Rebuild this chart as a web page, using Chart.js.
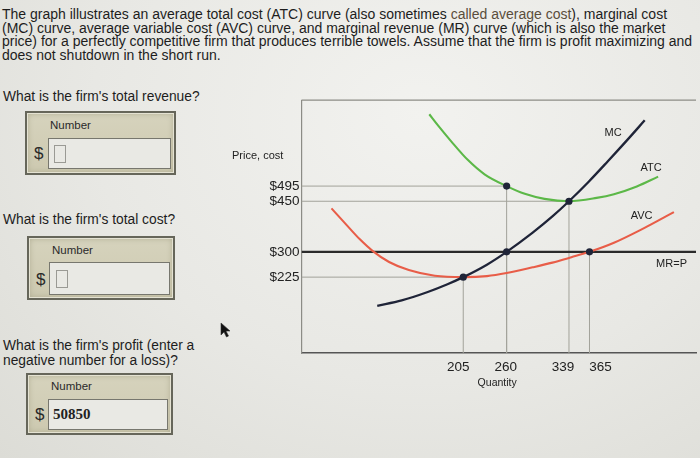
<!DOCTYPE html>
<html>
<head>
<meta charset="utf-8">
<script src="https://cdn.jsdelivr.net/npm/chart.js@4.4.1/dist/chart.umd.min.js"></script>
<style>
  html, body { margin: 0; padding: 0; }
  body {
    width: 700px; height: 458px; overflow: hidden; position: relative;
    font-family: "Liberation Sans", Arial, sans-serif; color: #1d1d1d;
    background: radial-gradient(ellipse at 60% 25%, #f2f2ef 0%, #e8e8e4 55%, #dcdcd6 100%);
  }
  .intro { position: absolute; left: 2px; top: 8px; font-size: 14px; line-height: 13.7px; white-space: nowrap; }
  .intro .tint { color: #5a4d3c; }
  .q { position: absolute; left: 3px; font-size: 13.8px; line-height: 15px; white-space: nowrap; }
  .box {
    position: absolute; box-sizing: border-box;
    border: 2px solid #66665a; box-shadow: inset 0 0 0 1px #e4e2d2, inset 0 0 6px #a9a68c;
    background: linear-gradient(180deg, #d6d3bd 0%, #cdc9b0 100%);
  }
  .box .lbl { position: absolute; font-size: 11.5px; color: #2a2a2a; }
  .box .dol { position: absolute; font-size: 17px; color: #2a2a2a; }
  .box .inp { position: absolute; box-sizing: border-box; border: 1px solid #77776e; background: #e9e9e4; }
  .box .caret { position: absolute; box-sizing: border-box; border: 1px solid #9a9a94; width: 12px; height: 18px; }
  .box .val { position: absolute; font-family: "Liberation Serif", "Times New Roman", serif; font-weight: bold; font-size: 15px; color: #222; }
  #wrap { position: absolute; left: 230px; top: 90px; width: 470px; height: 310px; }
</style>
</head>
<body>

<div class="intro">
The graph illustrates an average total cost (ATC) curve (also sometimes <span class="tint">called average cost</span>), marginal cost<br>
(MC) curve, average variable cost (AVC) curve, and marginal revenue (MR) curve (which is also the market<br>
price) for a perfectly competitive firm that produces terrible towels. Assume that the firm is profit maximizing and<br>
does not shutdown in the short run.
</div>

<div class="q" style="top:89px">What is the firm's total revenue?</div>
<div class="box" style="left:25px;top:111px;width:151px;height:64px">
  <div class="lbl" style="left:23px;top:6px">Number</div>
  <div class="dol" style="left:7px;top:31px">$</div>
  <div class="inp" style="left:21px;top:25px;width:123px;height:31px">
    <div class="caret" style="left:5px;top:6px"></div>
  </div>
</div>

<div class="q" style="top:212px">What is the firm's total cost?</div>
<div class="box" style="left:27px;top:236px;width:148px;height:64px">
  <div class="lbl" style="left:23px;top:6px">Number</div>
  <div class="dol" style="left:7px;top:32px">$</div>
  <div class="inp" style="left:20px;top:24px;width:121px;height:33px">
    <div class="caret" style="left:6px;top:7px"></div>
  </div>
</div>

<div class="q" style="top:338px">What is the firm's profit (enter a<br>negative number for a loss)?</div>
<div class="box" style="left:26px;top:373px;width:147px;height:62px">
  <div class="lbl" style="left:23px;top:5px">Number</div>
  <div class="dol" style="left:7px;top:30px">$</div>
  <div class="inp" style="left:20px;top:24px;width:120px;height:31px">
    <div class="val" style="left:4px;top:6px">50850</div>
  </div>
</div>

<svg style="position:absolute;left:220px;top:322px" width="12" height="16" viewBox="0 0 12 16">
  <polygon points="1,1 1,13 4,10 6.5,15 8.5,14 6,9 10,9" fill="#111" stroke="#333" stroke-width="0.6"/>
</svg>

<div id="wrap"><canvas id="costChart"></canvas></div>

<script>
// --- Données ---
const mcQty  = [96, 127, 160, 185, 205, 235, 260, 293, 318, 339, 364, 388, 413, 435];
const mcCost = [140, 156, 181, 204, 225, 262, 300, 357, 405, 450, 508, 568, 632, 690];

const atcQty  = [162, 174, 190, 211, 232, 260, 283, 308, 339, 374, 396, 425, 452];
const atcCost = [708, 672, 627, 572, 530, 495, 472, 457, 450, 460, 471, 494, 523];

const avcQty  = [38, 57, 74, 90, 111, 136, 169, 205, 235, 260, 293, 318, 342, 365, 396, 433, 472];
const avcCost = [429, 380, 337, 303, 270, 246, 229, 225, 228, 237, 254, 268, 284, 300, 327, 369, 418];

const mrPrice = 300;

// points marqués (intersections)
const dotQty  = [205, 260, 260, 339, 365];
const dotCost = [225, 300, 495, 450, 300];

const yTickValues = [225, 300, 450, 495];
const xTickValues = [205, 260, 339, 365];

const zip = (xs, ys) => xs.map((x, i) => ({ x: x, y: ys[i] }));

document.addEventListener("DOMContentLoaded", () => {
  const canvas = document.getElementById("costChart");
  if (typeof Chart === "undefined") {
    console.error("Chart.js n'est pas chargé.");
    return;
  }

  const DARK = "#1f2438";
  const GUIDE = "#a2a29a";

  // lignes de repère : vers l'axe des prix et vers l'axe des quantités
  const guides = [];
  dotQty.forEach((q, i) => {
    guides.push([{ x: 0, y: dotCost[i] }, { x: q, y: dotCost[i] }]);
    guides.push([{ x: q, y: 0 }, { x: q, y: dotCost[i] }]);
  });

  const datasets = [
    { data: zip(dotQty, dotCost), showLine: false, pointRadius: 3.6,
      pointBackgroundColor: DARK, pointBorderColor: DARK, borderWidth: 0 },
    { data: zip(mcQty, mcCost), borderColor: DARK, borderWidth: 2.3,
      pointRadius: 0, cubicInterpolationMode: "monotone" },
    { data: zip(atcQty, atcCost), borderColor: "#5cb848", borderWidth: 2.1,
      pointRadius: 0, cubicInterpolationMode: "monotone" },
    { data: zip(avcQty, avcCost), borderColor: "#e85d48", borderWidth: 2.1,
      pointRadius: 0, cubicInterpolationMode: "monotone" },
    { data: [{ x: 0, y: mrPrice }, { x: 500, y: mrPrice }], borderColor: "#2a2a2a",
      borderWidth: 2.4, pointRadius: 0 }
  ];
  guides.forEach(g => datasets.push({ data: g, borderColor: GUIDE, borderWidth: 1, pointRadius: 0 }));

  // textes du graphique : étiquettes des courbes, axe des quantités, bord supérieur
  const annotations = {
    id: "annotations",
    afterDraw(chart) {
      const { ctx, chartArea, scales } = chart;
      const x = scales.x, y = scales.y;
      ctx.save();

      ctx.strokeStyle = "#8c8c86";
      ctx.lineWidth = 1.2;
      ctx.beginPath();
      ctx.moveTo(chartArea.left, chartArea.top);
      ctx.lineTo(chartArea.right, chartArea.top);
      ctx.stroke();

      ctx.fillStyle = "#222";
      ctx.textAlign = "center";
      ctx.textBaseline = "middle";
      ctx.font = '11px "Liberation Sans", Arial, sans-serif';
      [["MC", 395, 652], ["ATC", 443, 550], ["AVC", 431, 405], ["MR=P", 469, 263]].forEach(([t, q, p]) => {
        ctx.fillText(t, x.getPixelForValue(q), y.getPixelForValue(p));
      });

      ctx.font = '13.5px "Liberation Sans", Arial, sans-serif';
      const nudge = [-5, -1, -6, 11];
      xTickValues.forEach((v, i) => {
        ctx.fillText(String(v), x.getPixelForValue(v) + nudge[i], chartArea.bottom + 14);
      });

      ctx.font = '10.5px "Liberation Sans", Arial, sans-serif';
      ctx.fillText("Quantity", x.getPixelForValue(248), chartArea.bottom + 30);

      ctx.textAlign = "left";
      ctx.font = '11px "Liberation Sans", Arial, sans-serif';
      ctx.fillText("Price, cost", 2, y.getPixelForValue(584));
      ctx.restore();
    }
  };

  new Chart(canvas, {
    type: "line",
    data: { datasets },
    options: {
      responsive: true,
      maintainAspectRatio: false,
      animation: false,
      layout: { padding: { top: 4, right: 0, bottom: 0, left: 0 } },
      plugins: { legend: { display: false }, tooltip: { enabled: false } },
      scales: {
        x: {
          type: "linear", min: 0, max: 500,
          grid: { display: false, drawTicks: false },
          border: { display: true, color: "#555", width: 1.5 },
          ticks: { display: false },
          afterFit: (s) => { s.height = 47; }
        },
        y: {
          type: "linear", min: 0, max: 750,
          grid: { display: false, drawTicks: false },
          border: { display: true, color: "#8c8c86", width: 1.2 },
          afterBuildTicks: (s) => { s.ticks = yTickValues.map(v => ({ value: v })); },
          ticks: {
            padding: 2,
            color: "#222",
            font: { family: '"Liberation Sans", Arial, sans-serif', size: 13.5 },
            callback: (v) => "$" + v
          },
          afterFit: (s) => { s.width = 71.5; }
        }
      }
    },
    plugins: [annotations]
  });
});
</script>
</body>
</html>
